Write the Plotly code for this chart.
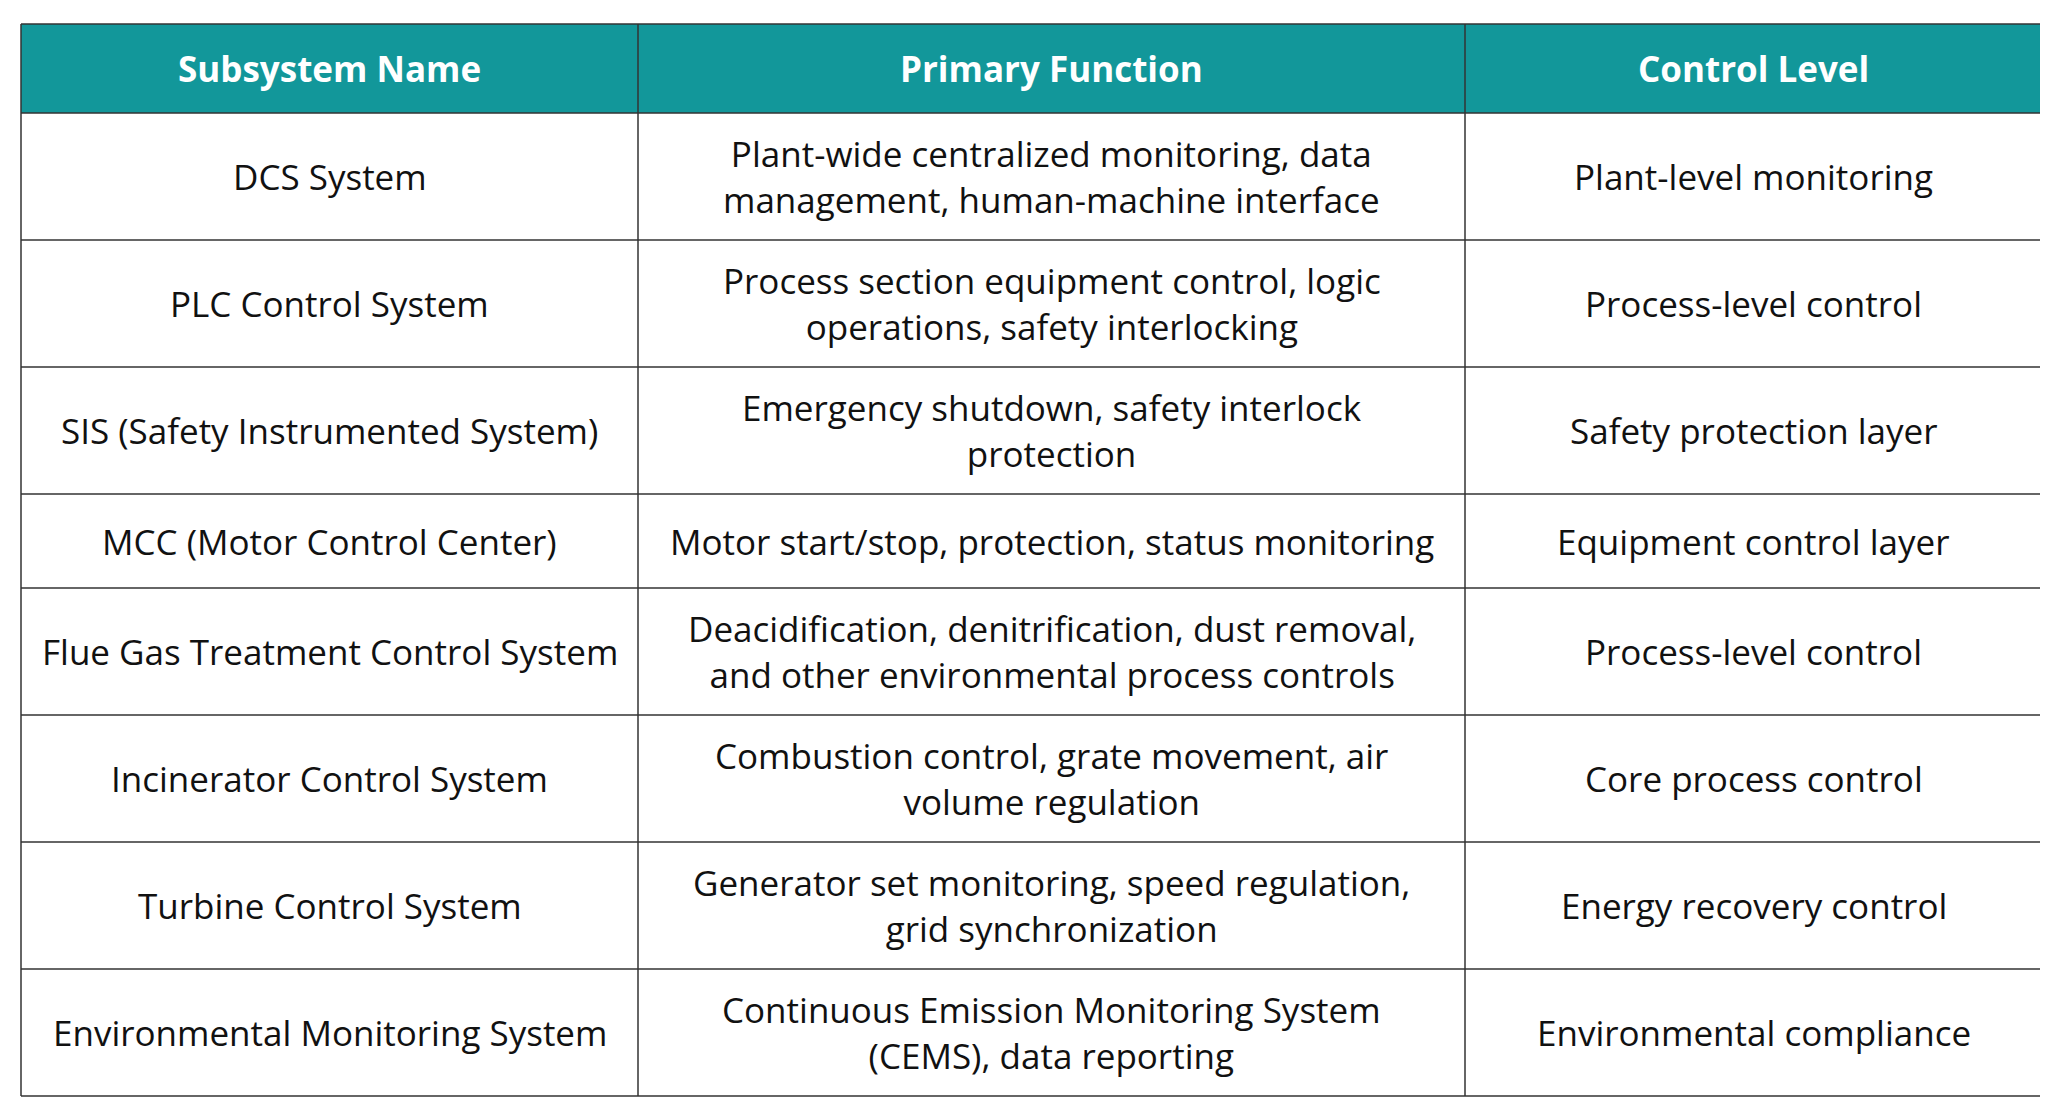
import plotly.graph_objects as go

headers = ["Subsystem Name", "Primary Function", "Control Level"]
subsystems = ["DCS System", "PLC Control System", "SIS (Safety Instrumented System)",
              "MCC (Motor Control Center)", "Flue Gas Treatment Control System",
              "Incinerator Control System", "Turbine Control System",
              "Environmental Monitoring System"]
functions = ["Plant-wide centralized monitoring, data<br>management, human-machine interface",
             "Process section equipment control, logic<br>operations, safety interlocking",
             "Emergency shutdown, safety interlock<br>protection",
             "Motor start/stop, protection, status monitoring",
             "Deacidification, denitrification, dust removal,<br>and other environmental process controls",
             "Combustion control, grate movement, air<br>volume regulation",
             "Generator set monitoring, speed regulation,<br>grid synchronization",
             "Continuous Emission Monitoring System<br>(CEMS), data reporting"]
levels = ["Plant-level monitoring", "Process-level control", "Safety protection layer",
          "Equipment control layer", "Process-level control", "Core process control",
          "Energy recovery control", "Environmental compliance"]

W, H = 2048, 1100
col_edges = [13, 630, 1457, 2034]
top, header_h = 16, 89
row_h = {1: 94, 2: 127}
FONT = "Open Sans"
LINE = dict(color="#333333", width=1.5)

fig = go.Figure()
shapes, anns = [], []

# header
shapes.append(dict(type="rect", x0=col_edges[0], x1=col_edges[-1], y0=top, y1=top + header_h,
                   fillcolor="#12979a", line=dict(width=0), layer="below"))
for i, h in enumerate(headers):
    anns.append(dict(x=(col_edges[i] + col_edges[i + 1]) / 2, y=top + header_h / 2,
                     text=f"<b>{h}</b>", showarrow=False, xanchor="center", yanchor="middle",
                     font=dict(family=FONT, size=35, color="white")))

y = top + header_h
row_lines = [y]
for s, f, l in zip(subsystems, functions, levels):
    n = max(t.count("<br>") + 1 for t in (s, f, l))
    h = row_h[n]
    for i, t in enumerate((s, f, l)):
        anns.append(dict(x=(col_edges[i] + col_edges[i + 1]) / 2, y=y + h / 2, text=t,
                         showarrow=False, xanchor="center", yanchor="middle", align="center",
                         font=dict(family=FONT, size=35, color="#111111")))
    y += h
    row_lines.append(y)

for yy in [top] + row_lines:
    shapes.append(dict(type="line", x0=col_edges[0], x1=col_edges[-1], y0=yy, y1=yy, line=LINE))
for xx in col_edges:
    shapes.append(dict(type="line", x0=xx, x1=xx, y0=top, y1=y, line=LINE))

fig.update_layout(width=W, height=H, margin=dict(l=0, r=0, t=0, b=0),
                  paper_bgcolor="white", plot_bgcolor="white", shapes=shapes, annotations=anns,
                  xaxis=dict(range=[0, W], visible=False, fixedrange=True),
                  yaxis=dict(range=[H, 0], visible=False, fixedrange=True),
                  showlegend=False)
fig.write_html("out.html")
